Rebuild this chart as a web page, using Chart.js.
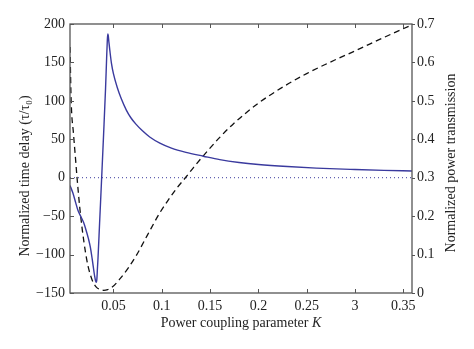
<!DOCTYPE html>
<html><head><meta charset="utf-8">
<script src="https://cdn.jsdelivr.net/npm/chart.js@4.4.1/dist/chart.umd.min.js"></script>
<style>html,body{margin:0;padding:0;background:#fff}#wrap{width:474px;height:349px}</style>
</head><body><div id="wrap"><canvas id="c" width="474" height="349"></canvas></div>
<script>
// Normalized time delay (left axis)
const delayK    = [0.005, 0.008, 0.011, 0.0131, 0.016, 0.019, 0.0211, 0.024, 0.026, 0.028, 0.030, 0.0305, 0.0315, 0.0322, 0.0328, 0.0334, 0.0340, 0.0356, 0.0377, 0.0398, 0.0418, 0.0429, 0.0436, 0.0441, 0.0446, 0.0453, 0.0462, 0.048, 0.050, 0.054, 0.058, 0.0633, 0.068, 0.073, 0.080, 0.0875, 0.098, 0.110, 0.125, 0.143, 0.160, 0.180, 0.200, 0.230, 0.260, 0.300, 0.330, 0.359];
const delayVals = [-10, -20, -33, -42, -50, -58, -66, -79, -90, -106, -124, -128, -134.5, -136, -132, -118, -104.5, -60, -2, 57, 116, 155, 178, 187, 185, 176, 166, 148, 135, 117, 103, 88, 78, 70, 61, 53, 45, 38.5, 33, 28, 23.5, 19.8, 17.2, 14.5, 12.5, 10.7, 9.6, 8.8];
// Normalized power transmission (right axis)
const transK    = [0.005, 0.0062, 0.0086, 0.0107, 0.0123, 0.015, 0.0177, 0.0211, 0.0235, 0.026, 0.0287, 0.032, 0.036, 0.040, 0.044, 0.049, 0.0564, 0.065, 0.0737, 0.085, 0.0978, 0.107, 0.115, 0.1238, 0.133, 0.143, 0.160, 0.174, 0.200, 0.226, 0.250, 0.278, 0.300, 0.330, 0.359];
const transVals = [0.64, 0.50, 0.415, 0.35, 0.30, 0.225, 0.165, 0.105, 0.072, 0.048, 0.029, 0.016, 0.009, 0.007, 0.009, 0.016, 0.036, 0.064, 0.098, 0.15, 0.208, 0.243, 0.271, 0.298, 0.327, 0.357, 0.405, 0.44, 0.494, 0.537, 0.571, 0.605, 0.630, 0.665, 0.698];
// Zero reference line
const zeroK    = [0.005, 0.359];
const zeroVals = [0, 0];
// Ticks
const xTickValues = [0.05, 0.1, 0.15, 0.2, 0.25, 0.3, 0.35];
const xTickLabels = ['0.05', '0.1', '0.15', '0.2', '0.25', '3', '0.35'];
const leftTickValues  = [-150, -100, -50, 0, 50, 100, 150, 200];
const rightTickValues = [0, 0.1, 0.2, 0.3, 0.4, 0.5, 0.6, 0.7];
const xTitle = 'Power coupling parameter ';
const xTitleVar = 'K';
const leftTitle = 'Normalized time delay (\u03c4/\u03c4\u2080)';
const rightTitle = 'Normalized power transmission';

const FONT = "'Liberation Serif', 'DejaVu Serif', serif";
const AXIS = '#555555';
Chart.defaults.font.family = FONT;
Chart.defaults.font.size = 14;
Chart.defaults.color = '#222';

const pts = (xs, ys) => xs.map((x, i) => ({x: x, y: ys[i]}));

const framePlugin = {
  id: 'frame',
  afterDraw(chart) {
    const ctx = chart.ctx, a = chart.chartArea;
    const xs = chart.scales.x, yl = chart.scales.y, yr = chart.scales.y1;
    ctx.save();
    ctx.strokeStyle = AXIS;
    ctx.lineWidth = 1.3;
    ctx.strokeRect(a.left, a.top, a.right - a.left, a.bottom - a.top);
    ctx.lineWidth = 1;
    ctx.beginPath();
    xTickValues.forEach(v => {
      const p = Math.round(xs.getPixelForValue(v)) + 0.5;
      ctx.moveTo(p, a.bottom); ctx.lineTo(p, a.bottom - 4);
      ctx.moveTo(p, a.top); ctx.lineTo(p, a.top + 4);
    });
    leftTickValues.forEach(v => {
      const p = Math.round(yl.getPixelForValue(v)) + 0.5;
      ctx.moveTo(a.left, p); ctx.lineTo(a.left + 4, p);
    });
    rightTickValues.forEach(v => {
      const p = Math.round(yr.getPixelForValue(v)) + 0.5;
      ctx.moveTo(a.right, p); ctx.lineTo(a.right + 3, p);
    });
    ctx.stroke();
    // titles
    ctx.fillStyle = '#222';
    ctx.textBaseline = 'middle';
    ctx.font = '14px ' + FONT;
    const w1 = ctx.measureText(xTitle).width;
    ctx.font = 'italic 14px ' + FONT;
    const w2 = ctx.measureText(xTitleVar).width;
    const cx = (a.left + a.right) / 2;
    let sx = cx - (w1 + w2) / 2;
    ctx.textAlign = 'left';
    ctx.font = '14px ' + FONT;
    ctx.fillText(xTitle, sx, 323);
    ctx.font = 'italic 14px ' + FONT;
    ctx.fillText(xTitleVar, sx + w1, 323);
    ctx.font = '14px ' + FONT;
    ctx.textAlign = 'center';
    ctx.save();
    ctx.translate(25, 176);
    ctx.rotate(-Math.PI / 2);
    ctx.fillText(leftTitle, 0, 0);
    ctx.restore();
    ctx.save();
    ctx.translate(451, 163);
    ctx.rotate(-Math.PI / 2);
    ctx.fillText(rightTitle, 0, 0);
    ctx.restore();
    ctx.restore();
  }
};

new Chart(document.getElementById('c'), {
  type: 'line',
  data: {
    datasets: [
      {
        label: 'delay', data: pts(delayK, delayVals), yAxisID: 'y',
        borderColor: '#3a3a9e', borderWidth: 1.4, pointRadius: 0,
        cubicInterpolationMode: 'monotone', fill: false
      },
      {
        label: 'transmission', data: pts(transK, transVals), yAxisID: 'y1',
        borderColor: '#111', borderWidth: 1.3, borderDash: [6, 4], pointRadius: 0,
        cubicInterpolationMode: 'monotone', fill: false
      },
      {
        label: 'zero', data: pts(zeroK, zeroVals), yAxisID: 'y',
        borderColor: '#6060b0', borderWidth: 1.2, borderDash: [1, 3], pointRadius: 0, fill: false
      }
    ]
  },
  options: {
    responsive: false,
    animation: false,
    devicePixelRatio: 1,
    layout: { padding: { top: 24, left: 0, right: 0, bottom: 0 } },
    plugins: { legend: { display: false }, tooltip: { enabled: false } },
    scales: {
      x: {
        type: 'linear', min: 0.005, max: 0.359,
        afterBuildTicks: s => { s.ticks = xTickValues.map(v => ({value: v})); },
        afterFit: s => { s.height = 56; },
        grid: { display: false, drawTicks: false },
        border: { display: false },
        ticks: {
          padding: 5, maxRotation: 0, autoSkip: false,
          callback: (v) => { const i = xTickValues.findIndex(t => Math.abs(t - v) < 1e-9); return i >= 0 ? xTickLabels[i] : ''; }
        }
      },
      y: {
        type: 'linear', position: 'left', min: -150, max: 200,
        afterBuildTicks: s => { s.ticks = leftTickValues.map(v => ({value: v})); },
        afterFit: s => { s.width = 70; },
        grid: { display: false, drawTicks: false },
        border: { display: false },
        ticks: { padding: 5, callback: v => v < 0 ? '\u2212' + Math.abs(v) : String(v) }
      },
      y1: {
        type: 'linear', position: 'right', min: 0, max: 0.7,
        afterBuildTicks: s => { s.ticks = rightTickValues.map(v => ({value: v})); },
        afterFit: s => { s.width = 62; },
        grid: { display: false, drawTicks: false },
        border: { display: false },
        ticks: { padding: 5, callback: v => v === 0 ? '0' : v.toFixed(1) }
      }
    }
  },
  plugins: [framePlugin]
});
</script>
</body></html>
